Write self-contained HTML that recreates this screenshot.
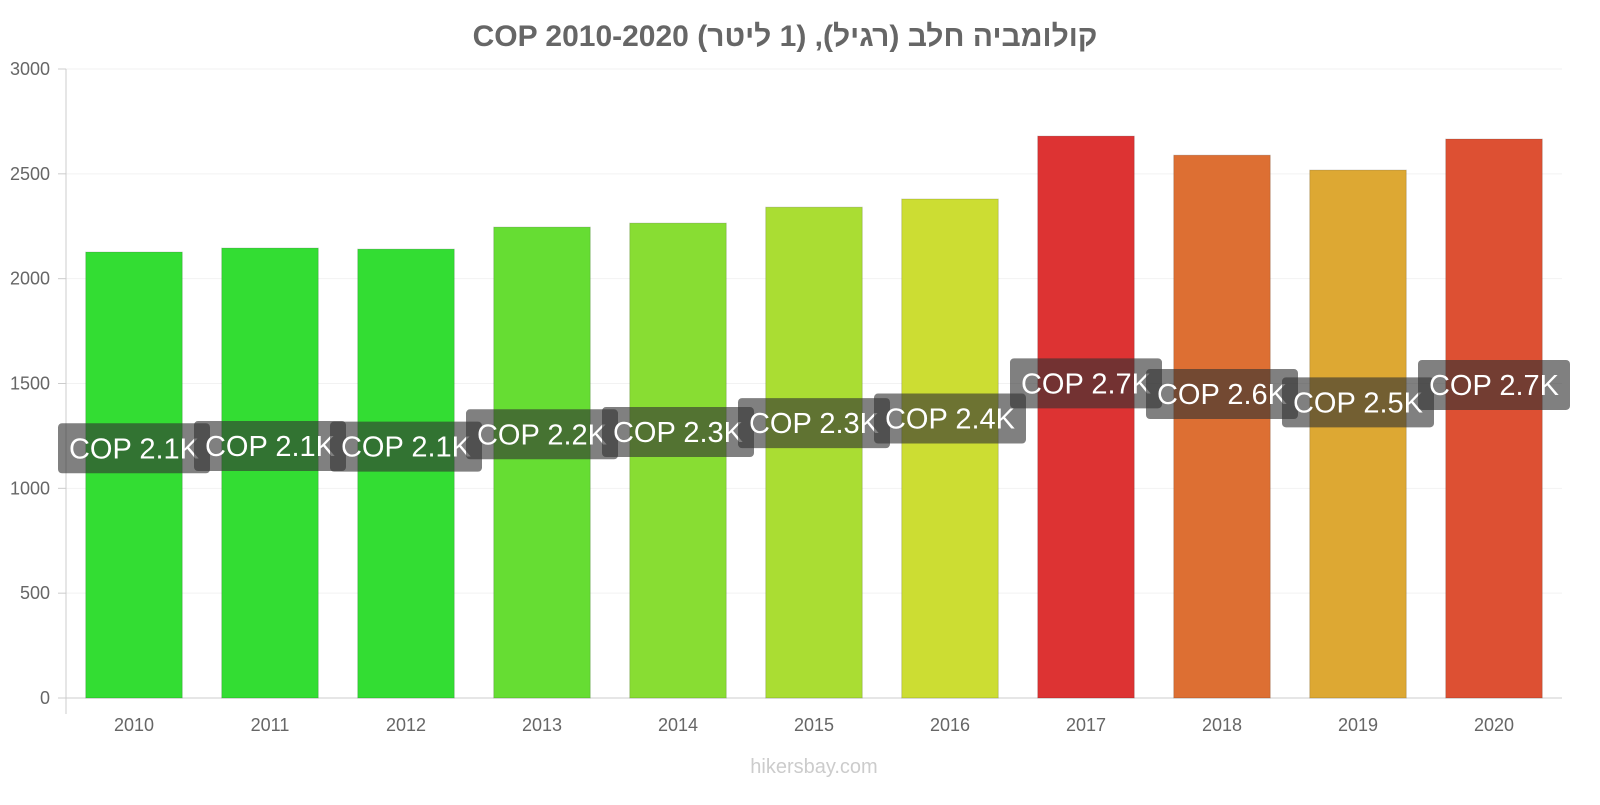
<!DOCTYPE html>
<html><head><meta charset="utf-8"><style>
body{margin:0;background:#fff;width:1600px;height:800px;overflow:hidden;font-family:"Liberation Sans",sans-serif}
</style></head><body>
<svg id="chart" width="1600" height="800" xmlns="http://www.w3.org/2000/svg">
<text x="785" y="46" text-anchor="middle" direction="rtl" font-size="30" font-weight="bold" fill="#666" font-family="'Liberation Sans','DejaVu Sans',sans-serif">קולומביה חלב (רגיל), (1 ליטר) COP 2010-2020</text>
<text x="814" y="773" text-anchor="middle" font-size="20" fill="#ccc">hikersbay.com</text>
<g id="grid"></g><g id="bars"></g><g id="labels"></g>
</svg>
<script>
const years=["2010","2011","2012","2013","2014","2015","2016","2017","2018","2019","2020"];
const values=[2127,2146,2141,2246,2265,2341,2380,2680,2589,2518,2666];
const valueLabels=["COP 2.1K","COP 2.1K","COP 2.1K","COP 2.2K","COP 2.3K","COP 2.3K","COP 2.4K","COP 2.7K","COP 2.6K","COP 2.5K","COP 2.7K"];
const barColors=["#33dd33","#33dd33","#33dd33","#66dd33","#88dd33","#aadd33","#ccdd33","#dd3333","#dd6f33","#dda833","#dd5033"];
const yTicks=[0,500,1000,1500,2000,2500,3000];
const NS="http://www.w3.org/2000/svg";
const x0=66,x1=1562,yb=698,yt=69,ymax=3000;
const band=(x1-x0)/years.length;
const y=v=>yb-(v/ymax)*(yb-yt);
const xc=i=>x0+band*(i+0.5);
function mk(t,a,p){const e=document.createElementNS(NS,t);for(const k in a)e.setAttribute(k,a[k]);p.appendChild(e);return e;}
const grid=document.getElementById('grid'),bars=document.getElementById('bars'),labels=document.getElementById('labels');
yTicks.forEach(t=>{
 const l=mk('line',{x1:x0,x2:x1,y1:y(t),y2:y(t),stroke:t?'#f2f2f2':'#ccc'},grid);
 
 
 const tx=mk('text',{x:x0-16,y:y(t)+6,'text-anchor':'end','font-size':18,fill:'#666'},grid);
 tx.textContent=t;
 
 
 mk('line',{x1:x0-8,x2:x0,y1:y(t),y2:y(t),stroke:'#ccc'},grid);
});
const ax=mk('line',{x1:x0,x2:x0,y1:yt,y2:yb+16,stroke:'#ccc'},grid);


years.forEach((yr,i)=>{
 const w=band*0.71;
 const r=mk('rect',{x:xc(i)-w/2,y:y(values[i]),width:w,height:yb-y(values[i]),fill:barColors[i],stroke:'rgba(0,0,0,0.15)'},bars);
 
 
 const tx=mk('text',{x:xc(i),y:yb+33,'text-anchor':'middle','font-size':18,fill:'#666'},grid);
 tx.textContent=yr;
 
 
 const cy=y(values[i]*0.56);
 const g=mk('g',{},labels);
 
 
 mk('rect',{x:xc(i)-76,y:cy-25,width:152,height:50,rx:4,fill:'rgba(50,50,50,0.62)'},g);
 const lt=mk('text',{x:xc(i),y:cy+10,'text-anchor':'middle','font-size':29,fill:'#fff'},g);
 lt.textContent=valueLabels[i];
});
</script>
</body></html>
